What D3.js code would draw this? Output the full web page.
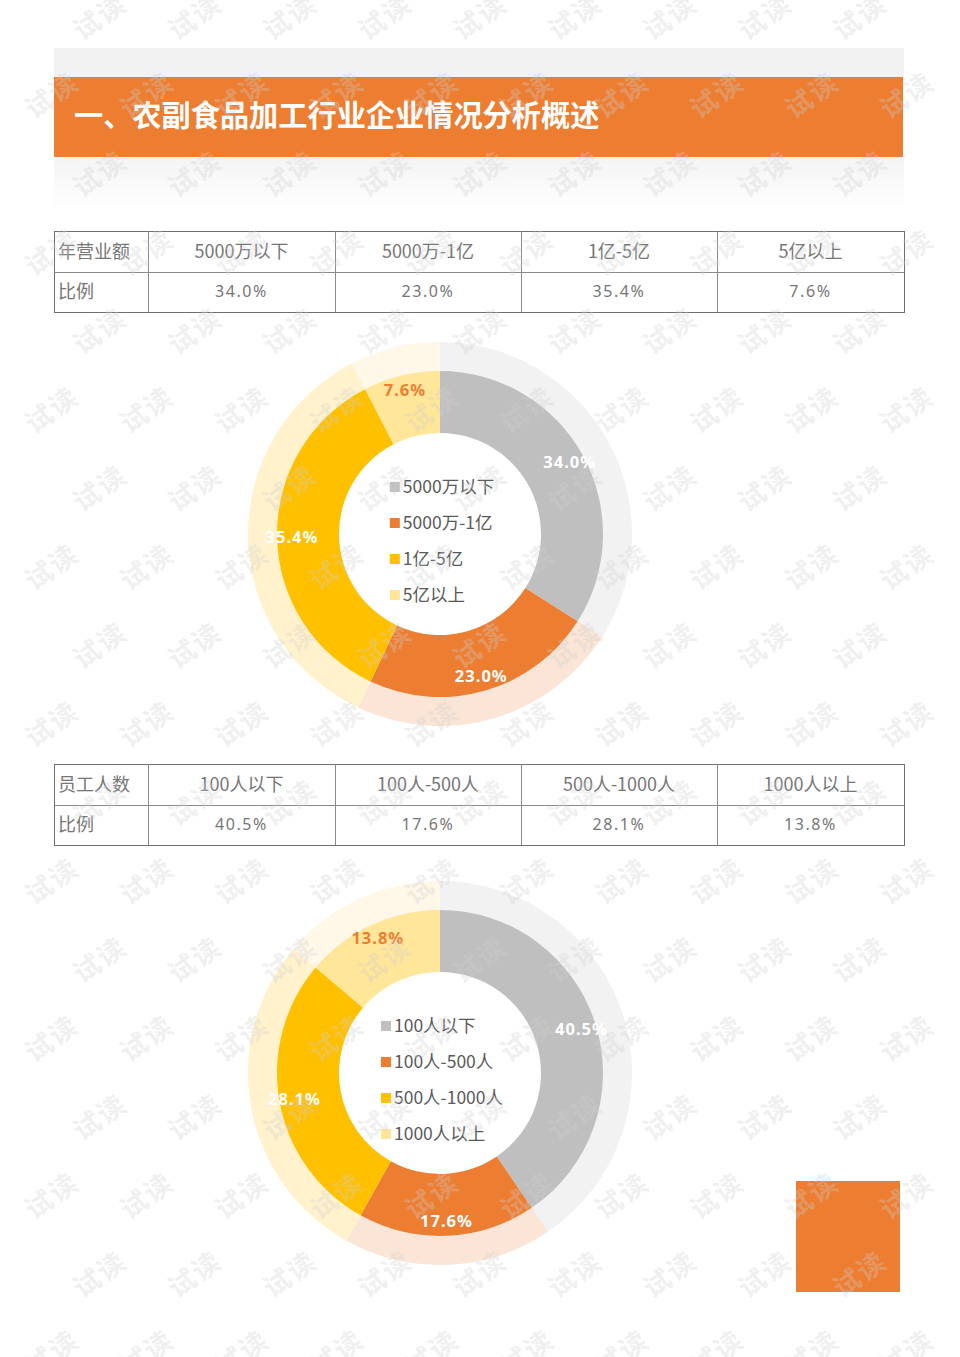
<!DOCTYPE html>
<html>
<head>
<meta charset="utf-8">
<script src="https://cdn.jsdelivr.net/npm/d3@7"></script>
<style>
  body { margin: 0; background: #fff; }
  svg { display: block; }
  .cell-text { font-family: "Noto Sans CJK SC", "Noto Sans", sans-serif; font-size: 18px; fill: #767676; }
  .num-text { font-family: "Noto Sans", "DejaVu Sans", sans-serif; font-size: 16px; fill: #767676; letter-spacing: 1.6px; }
  .slice-label { font-family: "Noto Sans", "DejaVu Sans", sans-serif; font-size: 16.5px; font-weight: bold; letter-spacing: 1px; }
  .legend-text { font-family: "Noto Sans CJK SC", "Noto Sans", sans-serif; font-size: 17.5px; fill: #595959; }
</style>
</head>
<body>
<svg id="page"></svg>
<script>
// ---- data ----
const pageTitle = '一、农副食品加工行业企业情况分析概述';

const revenueHeader = '年营业额';
const revenueCategories = ['5000万以下', '5000万-1亿', '1亿-5亿', '5亿以上'];
const revenueShares = [34.0, 23.0, 35.4, 7.6];

const staffHeader = '员工人数';
const staffCategories = ['100人以下', '100人-500人', '500人-1000人', '1000人以上'];
const staffShares = [40.5, 17.6, 28.1, 13.8];

const shareRowLabel = '比例';
const watermarkText = '试读';

// ---- styles ----
const sliceColours = ['#bfbfbf', '#ed7d31', '#ffc000', '#ffe699'];
const paleColours = ['#f2f2f2', '#fbe5d6', '#fff2cc', '#fff8e8'];
const labelColours = ['#fff', '#fff', '#fff', '#ed7d31'];

const W = 960, H = 1357;
const svg = d3.select('#page').attr('width', W).attr('height', H);

// header band
const defs = svg.append('defs');
const fade = defs.append('linearGradient')
    .attr('id', 'fade').attr('x1', 0).attr('x2', 0).attr('y1', 0).attr('y2', 1);
fade.append('stop').attr('offset', 0).attr('stop-color', '#f4f4f4');
fade.append('stop').attr('offset', 1).attr('stop-color', '#ffffff');

svg.append('rect').attr('x', 54).attr('y', 48).attr('width', 850).attr('height', 30).attr('fill', '#f2f2f2');
svg.append('rect').attr('x', 54).attr('y', 157).attr('width', 850).attr('height', 55).attr('fill', 'url(#fade)');
svg.append('rect').attr('x', 54).attr('y', 77).attr('width', 849).attr('height', 80).attr('fill', '#ed7d31');
svg.append('text')
    .attr('x', 74).attr('y', 126)
    .attr('fill', '#fff')
    .style('font-family', '"Noto Sans CJK SC", sans-serif')
    .style('font-weight', 'bold')
    .style('font-size', '29.2px')
    .text(pageTitle);

// ---- tables ----
const colEdges = [54, 148, 335, 521, 717, 904];

function drawTable(top, header, cats, shares) {
    const g = svg.append('g');
    const rowH = 40.5;
    const rows = [[header].concat(cats), [shareRowLabel].concat(shares.map(v => d3.format('.1f')(v) + '%'))];

    rows.forEach((row, ri) => {
        const y = top + ri * rowH;
        row.forEach((txt, ci) => {
            const x0 = colEdges[ci], x1 = colEdges[ci + 1];
            g.append('text')
                .attr('class', ri === 1 && ci > 0 ? 'num-text' : 'cell-text')
                .attr('x', ci === 0 ? x0 + 4 : (x0 + x1) / 2)
                .attr('y', y + rowH / 2)
                .attr('dy', '0.35em')
                .attr('text-anchor', ci === 0 ? 'start' : 'middle')
                .text(txt);
        });
    });

    // grid lines
    const bottom = top + 2 * rowH;
    g.append('rect')
        .attr('x', colEdges[0] + 0.5).attr('y', top + 0.5)
        .attr('width', colEdges[5] - colEdges[0]).attr('height', bottom - top)
        .attr('fill', 'none').attr('stroke', '#6f6f6f');
    g.append('line')
        .attr('x1', colEdges[0]).attr('x2', colEdges[5])
        .attr('y1', Math.round(top + rowH) + 0.5).attr('y2', Math.round(top + rowH) + 0.5)
        .attr('stroke', '#8a8a8a');
    colEdges.slice(1, 5).forEach(x => {
        g.append('line')
            .attr('x1', x + 0.5).attr('x2', x + 0.5)
            .attr('y1', top).attr('y2', bottom)
            .attr('stroke', '#8a8a8a');
    });
}

drawTable(231, revenueHeader, revenueCategories, revenueShares);
drawTable(764, staffHeader, staffCategories, staffShares);

// ---- donuts ----
function drawDonut(cx, cy, cats, shares) {
    const g = svg.append('g').attr('transform', `translate(${cx},${cy})`);
    const pie = d3.pie().sort(null).value(d => d)(shares);

    const paleArc = d3.arc().innerRadius(162).outerRadius(192);
    const mainArc = d3.arc().innerRadius(101).outerRadius(163);
    const labelArc = d3.arc().innerRadius(148).outerRadius(148);

    g.selectAll('.pale').data(pie).join('path')
        .attr('class', 'pale')
        .attr('d', paleArc)
        .attr('fill', (d, i) => paleColours[i]);

    g.selectAll('.slice').data(pie).join('path')
        .attr('class', 'slice')
        .attr('d', mainArc)
        .attr('fill', (d, i) => sliceColours[i]);

    g.selectAll('.slice-label').data(pie).join('text')
        .attr('class', 'slice-label')
        .attr('transform', d => `translate(${labelArc.centroid(d)})`)
        .attr('text-anchor', 'middle')
        .attr('dy', '0.35em')
        .attr('fill', (d, i) => labelColours[i])
        .text(d => d3.format('.1f')(d.data) + '%');

    // legend in the hole
    const legend = g.append('g');
    const items = legend.selectAll('g').data(cats).join('g')
        .attr('transform', (d, i) => `translate(0,${-47 + i * 36})`);
    items.append('rect')
        .attr('x', 0).attr('y', -5).attr('width', 10).attr('height', 10)
        .attr('fill', (d, i) => sliceColours[i]);
    items.append('text')
        .attr('class', 'legend-text')
        .attr('x', 13).attr('dy', '0.35em')
        .text(d => d);
    const bw = legend.node().getBBox().width;
    legend.attr('transform', `translate(${2 - bw / 2},0)`);
}

drawDonut(440, 534, revenueCategories, revenueShares);
drawDonut(440, 1073, staffCategories, staffShares);

// bottom-right block
svg.append('rect').attr('x', 796).attr('y', 1181).attr('width', 104).attr('height', 111).attr('fill', '#ed7d31');

// ---- watermark ----
const wm = svg.append('g').attr('pointer-events', 'none');
const wmRows = d3.range(0, 18).map(i => 17 + i * 78.6);
wmRows.forEach((y, ri) => {
    const startX = ri % 2 === 0 ? 100 : 52;
    d3.range(startX, 925, 95).forEach(x => {
        wm.append('text')
            .attr('transform', `translate(${x},${y}) rotate(-35)`)
            .attr('text-anchor', 'middle')
            .attr('dy', '0.35em')
            .attr('fill', '#cfcfcf')
            .attr('fill-opacity', 0.32)
            .style('font-family', '"Noto Sans CJK SC", sans-serif')
            .style('font-weight', 'bold')
            .style('font-size', '27px')
            .style('letter-spacing', '2px')
            .text(watermarkText);
    });
});
</script>
</body>
</html>
